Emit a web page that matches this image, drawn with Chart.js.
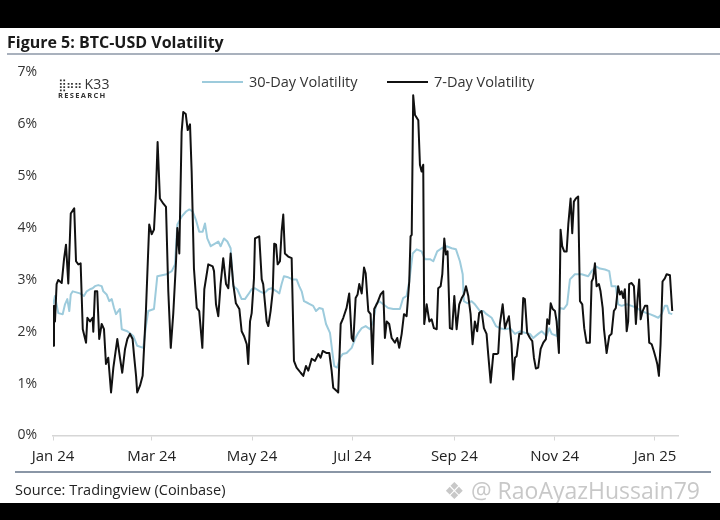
<!DOCTYPE html>
<html>
<head>
<meta charset="utf-8">
<title>BTC-USD Volatility</title>
<script src="https://cdn.jsdelivr.net/npm/chart.js@4.4.1/dist/chart.umd.min.js"></script>
<style>
  body { margin: 0; width: 720px; height: 520px; background: #fff; overflow: hidden; position: relative; font-family: "Open Sans", sans-serif; color: #222; }
  .bar { position: absolute; left: 0; width: 720px; background: #000; }
  #volChart { position: absolute; left: 0; top: 0; }
  .title { position: absolute; left: 7px; top: 31px; font-size: 16px; font-weight: bold; color: #1a1a1a; }
  .rule { position: absolute; left: 7px; top: 53px; width: 713px; height: 2px; background: #a9b1bd; }
  .logo { position: absolute; left: 58px; top: 72px; color: #333; }
  .logo .k { font-size: 14px; letter-spacing: 0.3px; }
  .logo .dots { font-family: "DejaVu Sans"; font-size: 12px; letter-spacing: -1px; margin-right: 3px; }
  .logo .r { font-size: 7.5px; font-weight: bold; letter-spacing: 1.3px; margin-top: -4px; }
  .leg { position: absolute; top: 72px; font-size: 14.5px; color: #333; }
  .leg i { display: inline-block; width: 41px; height: 2px; vertical-align: middle; margin-right: 6px; margin-top: -2px; }
  .foot-rule { position: absolute; left: 15px; top: 471px; width: 696px; height: 1.5px; background: #8a96a6; }
  .source { position: absolute; left: 15px; top: 480px; font-size: 14.5px; color: #222; }
  .mark { position: absolute; left: 444px; top: 474px; font-size: 23px; color: #c8c8c8; white-space: nowrap; }
</style>
</head>
<body>
<div class="bar" style="top:0;height:28px"></div>
<canvas id="volChart" width="720" height="520"></canvas>
<div class="title">Figure 5: BTC-USD Volatility</div>
<div class="rule"></div>
<div class="logo"><div><span class="dots">⣿⠶⠶</span><span class="k">K33</span></div><div class="r">RESEARCH</div></div>
<div class="leg" style="left:202px"><i style="background:#9dcbdc"></i>30-Day Volatility</div>
<div class="leg" style="left:387px"><i style="background:#111"></i>7-Day Volatility</div>
<div class="foot-rule"></div>
<div class="source">Source: Tradingview (Coinbase)</div>
<div class="mark">❖ @ RaoAyazHussain79</div>
<div class="bar" style="top:503px;height:17px"></div>
<script>
// days counted from 1 Jan 2024
const tickDays = [0, 60, 121, 182, 244, 305, 366];
const tickLabels = ['Jan 24', 'Mar 24', 'May 24', 'Jul 24', 'Sep 24', 'Nov 24', 'Jan 25'];
const yTicks = [0, 1, 2, 3, 4, 5, 6, 7];

// 7-day volatility (%)
const days7 = [0, 0.6, 1.2, 2.2, 3.2, 5.3, 6.7, 7.9, 9.3, 10.8, 12.9, 14.0, 15.4, 16.8, 18.1, 20.1, 20.9, 22.5, 24.1, 24.5,
  25.5, 26.9, 28.1, 29.6, 31.0, 32.2, 33.6, 35.3, 36.7, 39.1, 40.7, 42.1, 43.8, 45.2, 46.8, 48.4, 49.2, 50.5, 51.2, 52.9,
  54.5, 56.5, 58.5, 60.0, 61.4, 62.6, 63.6, 65.0, 67.1, 68.7, 70.1, 71.6, 73.1, 74.8, 75.6, 76.8, 78.2, 79.2, 80.7, 81.9,
  83.3, 84.3, 85.7, 87.4, 88.9, 90.8, 92.0, 94.4, 97.1, 97.9, 99.1, 100.5, 101.9, 103.5, 105.2, 106.6, 108.0, 109.6, 111.2, 113.3,
  114.7, 116.1, 117.8, 118.7, 119.8, 120.8, 122.2, 122.8, 125.4, 126.9, 127.8, 129.9, 130.9, 132.3, 133.6, 134.5, 135.6, 136.6, 138.0, 139.0,
  140.0, 141.0, 143.0, 145.1, 146.5, 148.1, 150.6, 152.2, 153.8, 155.2, 157.3, 159.3, 161.3, 162.7, 164.0, 166.4, 168.0, 169.4, 170.4, 172.5,
  173.4, 174.9, 176.5, 178.5, 180.1, 181.6, 182.6, 184.0, 185.2, 186.2, 187.7, 189.1, 190.1, 191.7, 193.1, 194.3, 195.3, 197.1, 199.2, 200.8,
  201.8, 202.9, 204.4, 205.9, 207.9, 209.3, 210.5, 212.0, 213.4, 215.0, 216.6, 217.4, 218.1, 219.0, 220.1, 222.1, 223.1, 224.1, 225.1, 225.7,
  227.2, 228.8, 230.2, 231.6, 233.3, 234.2, 235.7, 236.7, 237.9, 238.9, 239.9, 241.3, 242.7, 244.0, 245.4, 247.0, 248.5, 249.8, 251.1, 252.5,
  253.9, 255.1, 256.5, 257.9, 259.1, 260.6, 262.0, 263.6, 264.6, 266.1, 267.7, 269.7, 270.7, 271.7, 273.4, 274.8, 275.8, 277.2, 278.8, 279.8,
  280.9, 281.9, 283.5, 284.9, 285.9, 286.9, 288.3, 290.0, 291.4, 292.4, 293.6, 295.0, 296.5, 298.1, 299.7, 300.5, 301.7, 302.6, 303.8, 305.2,
  306.2, 307.6, 308.6, 309.6, 310.8, 312.3, 313.3, 314.7, 315.7, 316.7, 317.9, 319.3, 320.4, 321.8, 323.0, 324.4, 326.4, 327.5, 328.4, 329.5,
  330.5, 331.9, 332.9, 334.2, 335.0, 336.6, 338.2, 339.6, 341.0, 342.2, 343.6, 344.7, 345.7, 346.7, 347.7, 348.8, 349.7, 350.3, 351.8, 353.2,
  354.4, 355.4, 356.4, 357.3, 358.5, 359.9, 361.3, 362.5, 364.0, 365.3, 366.6, 367.4, 368.4, 369.4, 370.6, 372.0, 373.1, 375.1, 376.5];
const vol7 = [1.73, 2.5, 2.2, 2.92, 3.0, 2.94, 3.4, 3.68, 2.93, 4.28, 4.38, 3.36, 3.3, 3.32, 2.05, 1.79, 2.27, 2.2, 2.27, 2.0,
  2.78, 2.78, 1.86, 2.15, 2.05, 1.38, 1.5, 0.83, 1.31, 1.86, 1.5, 1.21, 1.67, 1.86, 1.96, 1.86, 1.57, 1.15, 0.83, 0.96,
  1.15, 2.4, 4.07, 3.88, 3.97, 4.7, 5.66, 4.57, 4.47, 4.41, 2.78, 1.69, 2.34, 3.36, 4.0, 3.51, 5.85, 6.24, 6.2, 5.89,
  6.0, 5.09, 3.22, 2.46, 2.4, 1.69, 2.82, 3.3, 3.26, 3.17, 2.53, 2.3, 2.92, 3.42, 2.92, 2.84, 3.51, 2.92, 2.55, 2.44,
  2.01, 1.92, 1.76, 1.38, 2.2, 2.36, 3.03, 3.8, 3.84, 3.01, 2.92, 2.2, 2.11, 2.4, 2.78, 3.7, 3.68, 3.3, 3.36, 3.93,
  4.26, 3.51, 3.45, 3.42, 1.44, 1.31, 1.21, 1.15, 1.34, 1.25, 1.48, 1.44, 1.57, 1.5, 1.63, 1.59, 1.59, 1.25, 0.92, 0.86,
  0.83, 2.15, 2.27, 2.46, 2.74, 1.88, 1.82, 2.65, 2.72, 2.92, 2.74, 3.24, 3.13, 2.4, 2.34, 1.38, 2.44, 2.55, 2.72, 2.78,
  1.88, 2.2, 2.15, 1.88, 1.79, 1.88, 1.69, 1.96, 2.34, 2.3, 2.97, 3.84, 3.87, 6.56, 6.18, 6.08, 5.22, 5.09, 5.22, 2.15,
  2.53, 2.2, 2.24, 2.07, 2.05, 2.84, 2.88, 3.11, 3.8, 3.49, 3.55, 2.07, 2.05, 2.69, 2.05, 2.53, 2.65, 2.72, 2.88, 2.69,
  2.34, 1.76, 2.2, 2.01, 2.36, 2.4, 2.07, 1.96, 1.57, 1.02, 1.57, 1.57, 1.59, 2.15, 2.53, 2.07, 2.17, 2.3, 1.76, 1.08,
  1.5, 1.53, 1.96, 1.96, 2.65, 2.63, 1.98, 1.88, 1.82, 1.5, 1.29, 1.31, 1.67, 1.79, 1.86, 2.24, 2.15, 2.55, 2.44, 2.4,
  2.2, 1.59, 3.97, 3.65, 3.55, 3.55, 4.07, 4.57, 3.9, 4.51, 4.57, 4.61, 2.59, 2.53, 2.07, 1.79, 1.79, 2.97, 3.03, 3.32,
  2.88, 2.92, 2.78, 2.46, 2.05, 1.59, 1.92, 1.96, 2.4, 2.46, 2.88, 2.72, 2.78, 2.65, 2.82, 2.01, 2.2, 2.92, 2.94, 2.88,
  2.15, 2.63, 3.01, 2.24, 2.4, 2.5, 2.5, 1.79, 1.76, 1.63, 1.48, 1.38, 1.15, 1.76, 2.97, 3.03, 3.11, 3.09, 2.4];

// 30-day volatility (%)
const days30 = [0.2, 1.2, 3.2, 5.9, 7.3, 8.7, 9.9, 10.8, 12.0, 16.4, 18.8, 20.5, 22.5, 24.1, 25.5, 27.5, 29.6, 30.6, 32.6, 34.2,
  35.7, 37.1, 38.3, 40.7, 41.8, 45.2, 47.2, 48.8, 51.2, 54.9, 56.5, 57.9, 61.4, 63.4, 69.1, 72.2, 74.2, 75.6, 78.2, 80.9,
  82.9, 84.9, 86.9, 88.9, 91.0, 92.4, 93.8, 95.9, 98.5, 100.5, 101.9, 104.0, 106.0, 108.0, 109.6, 112.0, 114.7, 116.7, 118.7, 120.8,
  122.8, 125.8, 128.3, 130.9, 132.9, 136.0, 137.6, 139.0, 140.4, 143.0, 145.7, 148.1, 149.7, 151.2, 152.6, 155.2, 158.2, 159.9, 161.9, 164.0,
  166.0, 168.4, 170.0, 171.0, 172.8, 174.5, 176.1, 178.5, 181.6, 183.6, 185.6, 187.7, 190.1, 192.7, 194.7, 196.5, 198.4, 200.8, 203.8, 206.9,
  210.9, 212.9, 215.0, 216.6, 218.7, 221.1, 224.1, 226.1, 229.2, 231.2, 233.6, 236.3, 239.3, 242.4, 245.0, 247.4, 249.1, 249.8, 251.9, 254.5,
  256.5, 259.6, 261.6, 263.6, 266.7, 269.3, 271.7, 274.8, 277.8, 280.9, 283.9, 286.9, 290.0, 292.0, 295.0, 297.1, 300.1, 301.7, 303.2, 306.2,
  308.2, 310.6, 312.6, 314.3, 317.3, 321.4, 325.4, 327.5, 330.1, 332.5, 335.6, 338.2, 339.6, 342.2, 343.6, 345.7, 348.8, 351.8, 354.8, 357.9,
  360.9, 362.9, 366.0, 368.0, 370.0, 372.0, 373.4, 374.6, 376.5];
const vol30 = [2.53, 2.69, 2.36, 2.34, 2.53, 2.63, 2.4, 2.72, 2.78, 2.74, 2.69, 2.78, 2.82, 2.84, 2.88, 2.9, 2.88, 2.78, 2.72, 2.59,
  2.63, 2.46, 2.34, 2.44, 2.05, 2.01, 1.96, 1.92, 1.73, 1.69, 2.11, 2.4, 2.44, 3.07, 3.11, 3.17, 3.3, 4.07, 4.22, 4.32,
  4.36, 4.32, 4.16, 3.93, 3.93, 4.09, 3.8, 3.65, 3.7, 3.74, 3.65, 3.8, 3.74, 3.61, 2.88, 2.82, 2.63, 2.63, 2.72, 2.82,
  2.84, 2.78, 2.74, 2.82, 2.84, 2.78, 2.74, 2.92, 3.07, 3.05, 3.01, 3.01, 2.88, 2.78, 2.59, 2.55, 2.5, 2.4, 2.46, 2.44,
  2.15, 1.98, 1.57, 1.34, 1.31, 1.5, 1.57, 1.59, 1.69, 1.86, 1.98, 2.07, 2.11, 2.05, 2.2, 2.53, 2.59, 2.53, 2.46, 2.44,
  2.44, 2.65, 2.69, 2.97, 3.51, 3.59, 3.55, 3.4, 3.4, 3.36, 3.55, 3.61, 3.65, 3.61, 3.59, 3.36, 3.11, 2.59, 2.55, 2.59,
  2.53, 2.4, 2.4, 2.34, 2.27, 2.11, 2.07, 2.05, 2.07, 1.96, 2.01, 1.98, 1.96, 1.88, 1.96, 2.01, 1.92, 2.07, 1.96, 1.92,
  2.46, 2.44, 2.53, 3.01, 3.11, 3.11, 3.07, 3.17, 3.26, 3.22, 3.2, 3.17, 2.88, 2.88, 2.53, 2.5, 2.53, 2.5, 2.46, 2.4,
  2.36, 2.34, 2.3, 2.27, 2.34, 2.5, 2.5, 2.36, 2.34];

const toPoints = (xs, ys) => xs.map((d, i) => ({ x: d, y: ys[i] }));
const fontFamily = '"Open Sans", sans-serif';

const ctx = document.getElementById('volChart').getContext('2d');
new Chart(ctx, {
  type: 'line',
  data: {
    datasets: [
      { label: '7-Day Volatility', data: toPoints(days7, vol7), borderColor: '#111', borderWidth: 2, order: 0 },
      { label: '30-Day Volatility', data: toPoints(days30, vol30), borderColor: '#9dcbdc', borderWidth: 2, order: 1 }
    ]
  },
  options: {
    responsive: false,
    animation: false,
    parsing: false,
    elements: { point: { radius: 0 }, line: { tension: 0, borderJoinStyle: 'round' } },
    layout: { padding: { left: 0, right: 42, top: 72.5, bottom: 54.5 } },
    plugins: { legend: { display: false }, tooltip: { enabled: false } },
    scales: {
      x: {
        type: 'linear', min: 0, max: 380,
        afterBuildTicks: s => { s.ticks = tickDays.map(v => ({ value: v })); },
        afterFit: s => { s.height = 30; },
        ticks: { autoSkip: false, maxRotation: 0, padding: 7, color: '#222', font: { family: fontFamily, size: 15 },
          callback: (v, i) => tickLabels[i] },
        grid: { drawOnChartArea: false, drawTicks: true, tickLength: 5, color: '#d6d6d6' },
        border: { color: '#d6d6d6', width: 1.5 }
      },
      y: {
        min: 0, max: 7,
        afterBuildTicks: s => { s.ticks = yTicks.map(v => ({ value: v })); },
        afterFit: s => { s.width = 53; },
        ticks: { padding: 16, color: '#333', font: { family: fontFamily, size: 14 }, callback: v => v + '%' },
        grid: { display: false, drawTicks: false },
        border: { display: false }
      }
    }
  }
});
</script>
</body>
</html>
